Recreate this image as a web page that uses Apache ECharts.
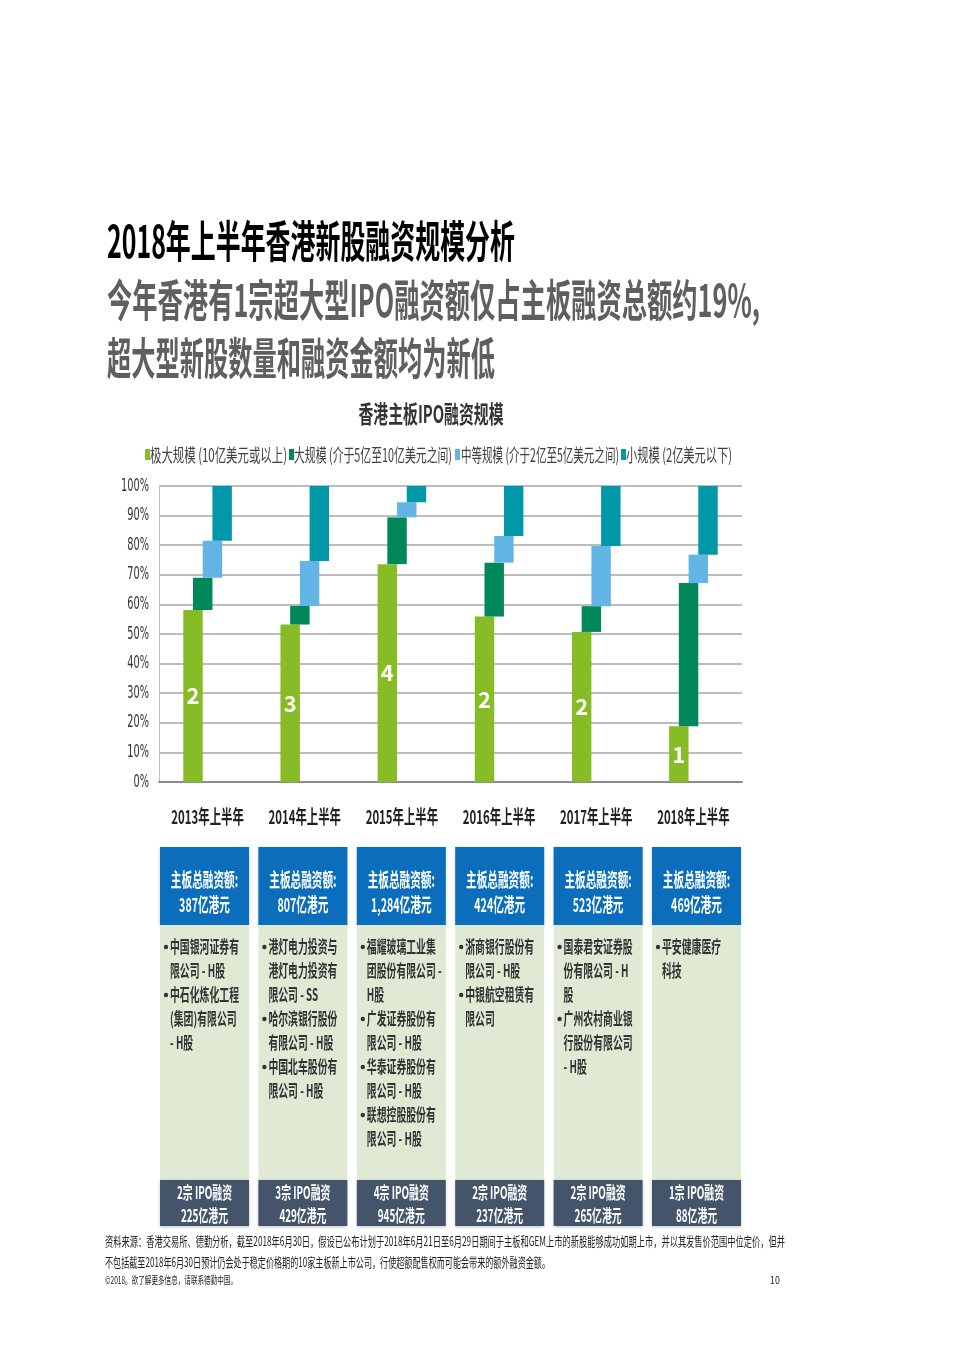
<!DOCTYPE html>
<html><head><meta charset="utf-8">
<script src="https://cdn.jsdelivr.net/npm/echarts@6/dist/echarts.min.js"></script>
<style>html,body{margin:0;padding:0;background:#fff}#c{width:960px;height:1357px}</style>
</head><body><div id="c"></div>
<script>
// ---------------- data ----------------
const categories = ['2013年上半年','2014年上半年','2015年上半年','2016年上半年','2017年上半年','2018年上半年'];
const seriesNames = ['极大规模 (10亿美元或以上)','大规模 (介于5亿至10亿美元之间)','中等规模 (介于2亿至5亿美元之间)','小规模 (2亿美元以下)'];
const veryLarge = [58.1, 53.2, 73.6, 55.9, 50.7, 18.8];
const large     = [10.9,  6.3, 15.8, 18.2,  8.7, 48.4];
const medium    = [12.5, 15.2,  5.1,  9.0, 20.3,  9.6];
const small     = [18.5, 25.3,  5.5, 16.9, 20.3, 23.2];
const veryLargeCount = [2, 3, 4, 2, 2, 1];
const yTickValues = [0, 10, 20, 30, 40, 50, 60, 70, 80, 90, 100];
const yTickLabels = ['0%','10%','20%','30%','40%','50%','60%','70%','80%','90%','100%'];
const totalFunding = ['387亿港元','807亿港元','1,284亿港元','424亿港元','523亿港元','469亿港元'];
const dealCount = ['2宗 IPO融资','3宗 IPO融资','4宗 IPO融资','2宗 IPO融资','2宗 IPO融资','1宗 IPO融资'];
const dealAmount = ['225亿港元','429亿港元','945亿港元','237亿港元','265亿港元','88亿港元'];
const companies = [
  [['中国银河证券有','限公司 - H股'], ['中石化炼化工程','(集团)有限公司','- H股']],
  [['港灯电力投资与','港灯电力投资有','限公司 - SS'], ['哈尔滨银行股份','有限公司 - H股'], ['中国北车股份有','限公司 - H股']],
  [['福耀玻璃工业集','团股份有限公司 -','H股'], ['广发证券股份有','限公司 - H股'], ['华泰证券股份有','限公司 - H股'], ['联想控股股份有','限公司 - H股']],
  [['浙商银行股份有','限公司 - H股'], ['中银航空租赁有','限公司']],
  [['国泰君安证券股','份有限公司 - H','股'], ['广州农村商业银','行股份有限公司','- H股']],
  [['平安健康医疗','科技']]
];
const titleLines = ['2018年上半年香港新股融资规模分析','今年香港有1宗超大型IPO融资额仅占主板融资总额约19%,','超大型新股数量和融资金额均为新低'];
const chartTitle = '香港主板IPO融资规模';
const footnotes = [
  '资料来源：香港交易所、德勤分析，截至2018年6月30日，假设已公布计划于2018年6月21日至6月29日期间于主板和GEM上市的新股能够成功如期上市，并以其发售价范围中位定价，但并',
  '不包括截至2018年6月30日预计仍会处于稳定价格期的10家主板新上市公司，行使超额配售权而可能会带来的额外融资金额。',
  '©2018。欲了解更多信息，请联系德勤中国。'
];
const pageNumber = '10';
const headerLabel = '主板总融资额:';

// ---------------- styles ----------------
const colors = ['#86BC25', '#00875A', '#62B5E5', '#0097A9'];
const CJK = "'Noto Sans CJK SC', sans-serif";
const LATIN = "'DejaVu Sans', sans-serif";

const mctx = document.createElement('canvas').getContext('2d');
function measure(text, size, weight, family) {
  mctx.font = (weight || 'normal') + ' ' + size + 'px ' + family;
  return mctx.measureText(text).width;
}
function txt(text, x, y, o) {
  const lines = String(text).split('\n');
  let sx = o.sx || 1;
  if (o.w) {
    const mw = Math.max.apply(null, lines.map(l => measure(l, o.size, o.weight, o.family || CJK)));
    sx = o.w / mw;
  }
  return {
    type: 'text', x: x, y: y, scaleX: sx, silent: true, z: 10,
    style: {
      text: text, fill: o.color || '#333', fontSize: o.size, fontWeight: o.weight || 'normal',
      fontFamily: o.family || CJK, textAlign: o.align || 'left', textVerticalAlign: o.va || 'middle',
      align: o.align || 'left', verticalAlign: o.va || 'middle', lineHeight: o.lh
    }
  };
}

const base2 = veryLarge.map(v => v);
const base3 = veryLarge.map((v, i) => v + large[i]);
const base4 = veryLarge.map((v, i) => v + large[i] + medium[i]);

const chart = echarts.init(document.getElementById('c'), null, { renderer: 'canvas' });
const hidden = { itemStyle: { color: 'rgba(0,0,0,0)' }, silent: true, emphasis: { disabled: true }, tooltip: { show: false } };
const common = { type: 'bar', barWidth: '20%', barGap: '-50%' };

chart.setOption({
  animation: false,
  backgroundColor: '#ffffff',
  grid: { left: 159, right: 218, top: 486, bottom: 575, containLabel: false },
  xAxis: {
    type: 'category', data: categories,
    axisLine: { lineStyle: { color: '#8c8c8c', width: 2 } },
    axisTick: { show: false }, axisLabel: { show: false }
  },
  yAxis: {
    type: 'value', min: 0, max: 100, interval: 10,
    axisLine: { show: true, lineStyle: { color: '#bfbfbf', width: 1 } },
    axisTick: { show: false },
    axisLabel: { show: false },
    splitLine: { lineStyle: { color: '#a6a6a6', width: 1.5 } }
  },
  series: [
    Object.assign({}, common, { name: seriesNames[0], stack: 'a', data: veryLarge, itemStyle: { color: colors[0] },
      label: { show: true, position: 'inside', formatter: p => String(veryLargeCount[p.dataIndex]), color: '#fff', fontWeight: 'bold', fontSize: 22, fontFamily: CJK } }),
    Object.assign({}, common, hidden, { name: 'base2', stack: 'b', data: base2 }),
    Object.assign({}, common, { name: seriesNames[1], stack: 'b', data: large, itemStyle: { color: colors[1] } }),
    Object.assign({}, common, hidden, { name: 'base3', stack: 'c', data: base3 }),
    Object.assign({}, common, { name: seriesNames[2], stack: 'c', data: medium, itemStyle: { color: colors[2] } }),
    Object.assign({}, common, hidden, { name: 'base4', stack: 'd', data: base4 }),
    Object.assign({}, common, { name: seriesNames[3], stack: 'd', data: small, itemStyle: { color: colors[3] } })
  ]
});

// ---------------- decorative / text layout ----------------
const g = [];
// headline
g.push(txt(titleLines[0], 107, 241, { size: 44, weight: 'bold', color: '#000', w: 408 }));
g.push(txt(titleLines[1], 107, 300, { size: 44, weight: 'bold', color: '#5f5f5f', w: 653 }));
g.push(txt(titleLines[2], 107, 358, { size: 44, weight: 'bold', color: '#5f5f5f', w: 388 }));
// chart title
g.push(txt(chartTitle, 431, 414, { size: 24, weight: 'bold', color: '#333', align: 'center', w: 145 }));
// legend
const legX = [[145, 150, 137], [289, 294, 158], [455, 461, 158], [621, 626, 106]];
seriesNames.forEach((n, i) => {
  g.push({ type: 'rect', silent: true, shape: { x: legX[i][0], y: 449, width: 5, height: 11 }, style: { fill: colors[i] } });
  g.push(txt(n, legX[i][1], 455, { size: 18, color: '#404040', w: legX[i][2] }));
});
// y tick labels (positions from the value axis)
const ySx = 28 / measure('100%', 18, 'normal', LATIN);
yTickValues.forEach((v, i) => {
  const py = chart.convertToPixel({ yAxisIndex: 0 }, v);
  g.push(txt(yTickLabels[i], 149, py, { size: 18, color: '#333', family: LATIN, align: 'right', sx: ySx }));
});
// year labels under axis
const y0 = chart.convertToPixel({ yAxisIndex: 0 }, 0);
categories.forEach((c, i) => {
  const cx = chart.convertToPixel({ xAxisIndex: 0 }, c);
  g.push(txt(c, cx, y0 + 35, { size: 19, weight: 'bold', color: '#222', align: 'center', sx: 0.6 }));
});
// boxes
categories.forEach((c, i) => {
  const bx = 160 + i * 98.4, bw = 89;
  g.push({ type: 'rect', silent: true, shape: { x: bx, y: 847, width: bw, height: 78 }, style: { fill: '#0A6EBD', shadowBlur: 3, shadowColor: 'rgba(0,0,0,0.25)', shadowOffsetY: 1 } });
  g.push({ type: 'rect', silent: true, shape: { x: bx, y: 925, width: bw, height: 255 }, style: { fill: '#DFE9D3' } });
  g.push({ type: 'rect', silent: true, shape: { x: bx, y: 1180, width: bw, height: 46 }, style: { fill: '#44546A', shadowBlur: 3, shadowColor: 'rgba(0,0,0,0.25)', shadowOffsetY: 1 } });
  const cx = bx + bw / 2;
  g.push(txt(headerLabel, cx, 880, { size: 19, weight: 'bold', color: '#fff', align: 'center', sx: 0.56 }));
  g.push(txt(totalFunding[i], cx, 905, { size: 19, weight: 'bold', color: '#fff', align: 'center', sx: 0.56 }));
  g.push(txt(dealCount[i], cx, 1193, { size: 17, weight: 'bold', color: '#fff', align: 'center', sx: 0.58 }));
  g.push(txt(dealAmount[i], cx, 1216, { size: 17, weight: 'bold', color: '#fff', align: 'center', sx: 0.58 }));
  let ly = 947;
  companies[i].forEach(item => {
    g.push({ type: 'circle', silent: true, z: 10, shape: { cx: bx + 6, cy: ly, r: 2.2 }, style: { fill: '#333' } });
    g.push(txt(item.join('\n'), bx + 10, ly - 12, { size: 17, weight: 'bold', color: '#333', sx: 0.58, va: 'top', lh: 24 }));
    ly += item.length * 24;
  });
});
// footnotes
g.push(txt(footnotes[0], 105, 1241, { size: 13, color: '#222', w: 680 }));
g.push(txt(footnotes[1], 105, 1262, { size: 13, color: '#222', w: 445 }));
g.push(txt(footnotes[2], 105, 1280, { size: 10.5, color: '#222', w: 132 }));
g.push(txt(pageNumber, 770, 1280, { size: 11, color: '#222', sx: 0.8 }));

chart.setOption({ graphic: { elements: g } });
</script>
</body></html>
